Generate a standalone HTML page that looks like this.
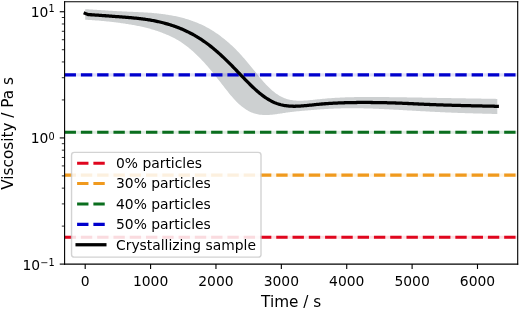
<!DOCTYPE html>
<html><head><meta charset="utf-8"><style>
html,body{margin:0;padding:0;background:#fff;width:520px;height:309px;overflow:hidden}
svg{display:block}
</style></head><body>
<svg width="520" height="309" viewBox="0 0 374.4 222.48" version="1.1">
 <defs>
  <style type="text/css">*{stroke-linejoin: round; stroke-linecap: butt}</style>
 </defs>
 <g id="figure_1">
  <g id="patch_1">
   <path d="M 0 222.48 
L 374.4 222.48 
L 374.4 0 
L 0 0 
z
" style="fill: #ffffff"/>
  </g>
  <g id="axes_1">
   <g id="patch_2">
    <path d="M 46.512 190.152 
L 372.744 190.152 
L 372.744 1.26 
L 46.512 1.26 
z
" style="fill: #ffffff"/>
   </g>
   <g id="FillBetweenPolyCollection_1">
    <g clip-path="url(#pe75832984a)">
     <path d="M 61.344 -208.299468 L 61.344 -215.896559 L 62.087639 -215.85263 L 62.831278 -215.808656 L 63.574917 -215.764593 L 64.318556 -215.720396 L 65.062195 -215.67602 L 65.805835 -215.631421 L 66.549474 -215.586554 L 67.293113 -215.541373 L 68.036752 -215.495836 L 68.780391 -215.449896 L 69.52403 -215.403509 L 70.267669 -215.356631 L 71.011308 -215.309216 L 71.754947 -215.261221 L 72.498586 -215.2126 L 73.242226 -215.163308 L 73.985865 -215.113322 L 74.729504 -215.062798 L 75.473143 -215.011993 L 76.216782 -214.961165 L 76.960421 -214.910569 L 77.70406 -214.860464 L 78.447699 -214.811106 L 79.191338 -214.762753 L 79.934977 -214.715613 L 80.678617 -214.669693 L 81.422256 -214.624948 L 82.165895 -214.581333 L 82.909534 -214.538803 L 83.653173 -214.497314 L 84.396812 -214.45682 L 85.140451 -214.417276 L 85.88409 -214.378637 L 86.627729 -214.340858 L 87.371368 -214.303895 L 88.115008 -214.267702 L 88.858647 -214.232234 L 89.602286 -214.197446 L 90.345925 -214.163293 L 91.089564 -214.129731 L 91.833203 -214.096714 L 92.576842 -214.064197 L 93.320481 -214.032136 L 94.06412 -214.00048 L 94.807759 -213.969114 L 95.551398 -213.937875 L 96.295038 -213.906598 L 97.038677 -213.875119 L 97.782316 -213.843275 L 98.525955 -213.8109 L 99.269594 -213.777831 L 100.013233 -213.743904 L 100.756872 -213.708954 L 101.500511 -213.672817 L 102.24415 -213.635329 L 102.987789 -213.596326 L 103.731429 -213.555643 L 104.475068 -213.513117 L 105.218707 -213.468583 L 105.962346 -213.421877 L 106.705985 -213.372834 L 107.449624 -213.321292 L 108.193263 -213.267084 L 108.936902 -213.210068 L 109.680541 -213.150134 L 110.42418 -213.087179 L 111.16782 -213.021099 L 111.911459 -212.951789 L 112.655098 -212.879145 L 113.398737 -212.803064 L 114.142376 -212.723441 L 114.886015 -212.640172 L 115.629654 -212.553153 L 116.373293 -212.46228 L 117.116932 -212.36745 L 117.860571 -212.268556 L 118.604211 -212.165497 L 119.34785 -212.058167 L 120.091489 -211.946463 L 120.835128 -211.830281 L 121.578767 -211.709516 L 122.322406 -211.584064 L 123.066045 -211.453817 L 123.809684 -211.318641 L 124.553323 -211.178393 L 125.296962 -211.032932 L 126.040602 -210.882115 L 126.784241 -210.725799 L 127.52788 -210.563843 L 128.271519 -210.396104 L 129.015158 -210.22244 L 129.758797 -210.042708 L 130.502436 -209.856767 L 131.246075 -209.664473 L 131.989714 -209.465685 L 132.733353 -209.260259 L 133.476992 -209.048055 L 134.220632 -208.82893 L 134.964271 -208.60274 L 135.70791 -208.369345 L 136.451549 -208.128601 L 137.195188 -207.880365 L 137.938827 -207.624448 L 138.682466 -207.360627 L 139.426105 -207.088672 L 140.169744 -206.808357 L 140.913383 -206.519454 L 141.657023 -206.221736 L 142.400662 -205.914975 L 143.144301 -205.598945 L 143.88794 -205.273417 L 144.631579 -204.938164 L 145.375218 -204.592959 L 146.118857 -204.237575 L 146.862496 -203.871783 L 147.606135 -203.495357 L 148.349774 -203.108078 L 149.093414 -202.709761 L 149.837053 -202.300228 L 150.580692 -201.879301 L 151.324331 -201.446813 L 152.06797 -201.002674 L 152.811609 -200.546839 L 153.555248 -200.079317 L 154.298887 -199.600144 L 155.042526 -199.109358 L 155.786165 -198.606995 L 156.529805 -198.093093 L 157.273444 -197.567686 L 158.017083 -197.030738 L 158.760722 -196.482145 L 159.504361 -195.921802 L 160.248 -195.349605 L 160.991639 -194.765447 L 161.735278 -194.169223 L 162.478917 -193.560787 L 163.222556 -192.939912 L 163.966195 -192.306359 L 164.709835 -191.659891 L 165.453474 -191.000269 L 166.197113 -190.327256 L 166.940752 -189.640613 L 167.684391 -188.940157 L 168.42803 -188.225782 L 169.171669 -187.497385 L 169.915308 -186.754869 L 170.658947 -185.998131 L 171.402586 -185.227073 L 172.146226 -184.441729 L 172.889865 -183.64248 L 173.633504 -182.829761 L 174.377143 -182.004005 L 175.120782 -181.165647 L 175.864421 -180.315203 L 176.60806 -179.453416 L 177.351699 -178.581072 L 178.095338 -177.698954 L 178.838977 -176.807847 L 179.582617 -175.908534 L 180.326256 -175.001867 L 181.069895 -174.089154 L 181.813534 -173.171893 L 182.557173 -172.251591 L 183.300812 -171.329905 L 184.044451 -170.408628 L 184.78809 -169.489615 L 185.531729 -168.5751 L 186.275368 -167.667472 L 187.019008 -166.769125 L 187.762647 -165.882348 L 188.506286 -165.009069 L 189.249925 -164.151139 L 189.993564 -163.310409 L 190.737203 -162.48871 L 191.480842 -161.687553 L 192.224481 -160.908197 L 192.96812 -160.151891 L 193.711759 -159.419712 L 194.455398 -158.712563 L 195.199038 -158.031345 L 195.942677 -157.376954 L 196.686316 -156.750288 L 197.429955 -156.152239 L 198.173594 -155.583436 L 198.917233 -155.044165 L 199.660872 -154.534686 L 200.404511 -154.055263 L 201.14815 -153.606088 L 201.891789 -153.186912 L 202.635429 -152.797309 L 203.379068 -152.436855 L 204.122707 -152.105125 L 204.866346 -151.801693 L 205.609985 -151.526113 L 206.353624 -151.277551 L 207.097263 -151.054831 L 207.840902 -150.856769 L 208.584541 -150.682178 L 209.32818 -150.529871 L 210.07182 -150.398664 L 210.815459 -150.287386 L 211.559098 -150.194891 L 212.302737 -150.120034 L 213.046376 -150.061668 L 213.790015 -150.01865 L 214.533654 -149.989834 L 215.277293 -149.974075 L 216.020932 -149.970228 L 216.764571 -149.977222 L 217.508211 -149.994251 L 218.25185 -150.020575 L 218.995489 -150.055451 L 219.739128 -150.098137 L 220.482767 -150.147892 L 221.226406 -150.203972 L 221.970045 -150.265637 L 222.713684 -150.332144 L 223.457323 -150.402751 L 224.200962 -150.476716 L 224.944602 -150.553297 L 225.688241 -150.631752 L 226.43188 -150.711339 L 227.175519 -150.791323 L 227.919158 -150.871131 L 228.662797 -150.950351 L 229.406436 -151.028578 L 230.150075 -151.105404 L 230.893714 -151.180443 L 231.637353 -151.253534 L 232.380992 -151.324662 L 233.124632 -151.393814 L 233.868271 -151.460979 L 234.61191 -151.526143 L 235.355549 -151.589295 L 236.099188 -151.650422 L 236.842827 -151.709511 L 237.586466 -151.76655 L 238.330105 -151.821528 L 239.073744 -151.87443 L 239.817383 -151.925246 L 240.561023 -151.973962 L 241.304662 -152.020566 L 242.048301 -152.065059 L 242.79194 -152.107479 L 243.535579 -152.147867 L 244.279218 -152.186266 L 245.022857 -152.222719 L 245.766496 -152.257268 L 246.510135 -152.289955 L 247.253774 -152.320824 L 247.997414 -152.349917 L 248.741053 -152.377276 L 249.484692 -152.402944 L 250.228331 -152.426963 L 250.97197 -152.449376 L 251.715609 -152.470226 L 252.459248 -152.489556 L 253.202887 -152.507419 L 253.946526 -152.52388 L 254.690165 -152.538999 L 255.433805 -152.55284 L 256.177444 -152.565466 L 256.921083 -152.576938 L 257.664722 -152.58732 L 258.408361 -152.596675 L 259.152 -152.605064 L 259.895639 -152.612544 L 260.639278 -152.619146 L 261.382917 -152.62489 L 262.126556 -152.629798 L 262.870195 -152.63389 L 263.613835 -152.637189 L 264.357474 -152.639715 L 265.101113 -152.641489 L 265.844752 -152.642533 L 266.588391 -152.642867 L 267.33203 -152.642514 L 268.075669 -152.641494 L 268.819308 -152.639828 L 269.562947 -152.637538 L 270.306586 -152.634644 L 271.050226 -152.631169 L 271.793865 -152.627133 L 272.537504 -152.622557 L 273.281143 -152.617462 L 274.024782 -152.611871 L 274.768421 -152.605804 L 275.51206 -152.599281 L 276.255699 -152.592326 L 276.999338 -152.584957 L 277.742977 -152.577198 L 278.486617 -152.569068 L 279.230256 -152.56059 L 279.973895 -152.551784 L 280.717534 -152.542672 L 281.461173 -152.533275 L 282.204812 -152.523613 L 282.948451 -152.513709 L 283.69209 -152.503583 L 284.435729 -152.493257 L 285.179368 -152.482751 L 285.923008 -152.472088 L 286.666647 -152.461288 L 287.410286 -152.450372 L 288.153925 -152.439361 L 288.897564 -152.428272 L 289.641203 -152.417108 L 290.384842 -152.405869 L 291.128481 -152.394559 L 291.87212 -152.383178 L 292.615759 -152.371729 L 293.359398 -152.360214 L 294.103038 -152.348633 L 294.846677 -152.336989 L 295.590316 -152.325284 L 296.333955 -152.313519 L 297.077594 -152.301697 L 297.821233 -152.289818 L 298.564872 -152.277885 L 299.308511 -152.265899 L 300.05215 -152.253862 L 300.795789 -152.241776 L 301.539429 -152.229643 L 302.283068 -152.217464 L 303.026707 -152.205241 L 303.770346 -152.192976 L 304.513985 -152.180671 L 305.257624 -152.168327 L 306.001263 -152.155947 L 306.744902 -152.143531 L 307.488541 -152.131082 L 308.23218 -152.118602 L 308.97582 -152.106092 L 309.719459 -152.093553 L 310.463098 -152.080989 L 311.206737 -152.0684 L 311.950376 -152.055788 L 312.694015 -152.043155 L 313.437654 -152.030503 L 314.181293 -152.017833 L 314.924932 -152.005148 L 315.668571 -151.992448 L 316.412211 -151.979737 L 317.15585 -151.967015 L 317.899489 -151.954284 L 318.643128 -151.941546 L 319.386767 -151.928803 L 320.130406 -151.916057 L 320.874045 -151.903309 L 321.617684 -151.890561 L 322.361323 -151.877815 L 323.104962 -151.865072 L 323.848602 -151.852335 L 324.592241 -151.839604 L 325.33588 -151.826881 L 326.079519 -151.814166 L 326.823158 -151.801457 L 327.566797 -151.788755 L 328.310436 -151.77606 L 329.054075 -151.763371 L 329.797714 -151.750688 L 330.541353 -151.738012 L 331.284992 -151.725342 L 332.028632 -151.712677 L 332.772271 -151.700019 L 333.51591 -151.687366 L 334.259549 -151.674718 L 335.003188 -151.662075 L 335.746827 -151.649438 L 336.490466 -151.636805 L 337.234105 -151.624177 L 337.977744 -151.611554 L 338.721383 -151.598935 L 339.465023 -151.58632 L 340.208662 -151.57371 L 340.952301 -151.561103 L 341.69594 -151.5485 L 342.439579 -151.535901 L 343.183218 -151.523305 L 343.926857 -151.510712 L 344.670496 -151.498122 L 345.414135 -151.485536 L 346.157774 -151.472952 L 346.901414 -151.46037 L 347.645053 -151.447791 L 348.388692 -151.435215 L 349.132331 -151.42264 L 349.87597 -151.410068 L 350.619609 -151.397497 L 351.363248 -151.384928 L 352.106887 -151.37236 L 352.850526 -151.359794 L 353.594165 -151.347229 L 354.337805 -151.334664 L 355.081444 -151.322101 L 355.825083 -151.309538 L 356.568722 -151.296976 L 357.312361 -151.284414 L 358.056 -151.271852 L 358.056 -140.389524 L 358.056 -140.389524 L 357.312361 -140.408211 L 356.568722 -140.426909 L 355.825083 -140.44563 L 355.081444 -140.464386 L 354.337805 -140.483188 L 353.594165 -140.502048 L 352.850526 -140.520977 L 352.106887 -140.539987 L 351.363248 -140.559089 L 350.619609 -140.578295 L 349.87597 -140.597617 L 349.132331 -140.617065 L 348.388692 -140.636652 L 347.645053 -140.656389 L 346.901414 -140.676288 L 346.157774 -140.696359 L 345.414135 -140.716616 L 344.670496 -140.737068 L 343.926857 -140.757728 L 343.183218 -140.778608 L 342.439579 -140.799718 L 341.69594 -140.821071 L 340.952301 -140.842678 L 340.208662 -140.86455 L 339.465023 -140.886699 L 338.721383 -140.909137 L 337.977744 -140.931875 L 337.234105 -140.954924 L 336.490466 -140.978297 L 335.746827 -141.002004 L 335.003188 -141.026058 L 334.259549 -141.050469 L 333.51591 -141.07525 L 332.772271 -141.100411 L 332.028632 -141.125965 L 331.284992 -141.151923 L 330.541353 -141.178297 L 329.797714 -141.205097 L 329.054075 -141.232336 L 328.310436 -141.260026 L 327.566797 -141.288176 L 326.823158 -141.3168 L 326.079519 -141.345909 L 325.33588 -141.375514 L 324.592241 -141.405627 L 323.848602 -141.43626 L 323.104962 -141.467416 L 322.361323 -141.499086 L 321.617684 -141.531256 L 320.874045 -141.563914 L 320.130406 -141.597047 L 319.386767 -141.630643 L 318.643128 -141.664689 L 317.899489 -141.699173 L 317.15585 -141.734081 L 316.412211 -141.7694 L 315.668571 -141.805119 L 314.924932 -141.841225 L 314.181293 -141.877704 L 313.437654 -141.914545 L 312.694015 -141.951734 L 311.950376 -141.989259 L 311.206737 -142.027107 L 310.463098 -142.065266 L 309.719459 -142.103723 L 308.97582 -142.142464 L 308.23218 -142.181478 L 307.488541 -142.220752 L 306.744902 -142.260273 L 306.001263 -142.300029 L 305.257624 -142.340006 L 304.513985 -142.380192 L 303.770346 -142.420575 L 303.026707 -142.461142 L 302.283068 -142.501879 L 301.539429 -142.542775 L 300.795789 -142.583817 L 300.05215 -142.624992 L 299.308511 -142.666287 L 298.564872 -142.70769 L 297.821233 -142.749188 L 297.077594 -142.790768 L 296.333955 -142.832418 L 295.590316 -142.874124 L 294.846677 -142.915876 L 294.103038 -142.957658 L 293.359398 -142.99946 L 292.615759 -143.041268 L 291.87212 -143.08307 L 291.128481 -143.124852 L 290.384842 -143.166603 L 289.641203 -143.208309 L 288.897564 -143.249959 L 288.153925 -143.291538 L 287.410286 -143.333033 L 286.666647 -143.374416 L 285.923008 -143.415651 L 285.179368 -143.456703 L 284.435729 -143.497538 L 283.69209 -143.538121 L 282.948451 -143.578417 L 282.204812 -143.618391 L 281.461173 -143.658009 L 280.717534 -143.697235 L 279.973895 -143.736034 L 279.230256 -143.774372 L 278.486617 -143.812214 L 277.742977 -143.849525 L 276.999338 -143.88627 L 276.255699 -143.922414 L 275.51206 -143.957923 L 274.768421 -143.992761 L 274.024782 -144.026894 L 273.281143 -144.060286 L 272.537504 -144.092904 L 271.793865 -144.124712 L 271.050226 -144.155674 L 270.306586 -144.185758 L 269.562947 -144.214927 L 268.819308 -144.243146 L 268.075669 -144.270381 L 267.33203 -144.296598 L 266.588391 -144.32176 L 265.844752 -144.345833 L 265.101113 -144.368783 L 264.357474 -144.390575 L 263.613835 -144.411173 L 262.870195 -144.430543 L 262.126556 -144.448649 L 261.382917 -144.465458 L 260.639278 -144.480934 L 259.895639 -144.495042 L 259.152 -144.507748 L 258.408361 -144.519017 L 257.664722 -144.528813 L 256.921083 -144.537102 L 256.177444 -144.543849 L 255.433805 -144.54902 L 254.690165 -144.552578 L 253.946526 -144.554491 L 253.202887 -144.554721 L 252.459248 -144.553236 L 251.715609 -144.55 L 250.97197 -144.544989 L 250.228331 -144.538194 L 249.484692 -144.529609 L 248.741053 -144.519224 L 247.997414 -144.507033 L 247.253774 -144.493027 L 246.510135 -144.477198 L 245.766496 -144.459539 L 245.022857 -144.440043 L 244.279218 -144.4187 L 243.535579 -144.395503 L 242.79194 -144.370445 L 242.048301 -144.343518 L 241.304662 -144.314714 L 240.561023 -144.28403 L 239.817383 -144.251501 L 239.073744 -144.217172 L 238.330105 -144.181091 L 237.586466 -144.143304 L 236.842827 -144.103859 L 236.099188 -144.062801 L 235.355549 -144.020177 L 234.61191 -143.976035 L 233.868271 -143.930421 L 233.124632 -143.883381 L 232.380992 -143.834962 L 231.637353 -143.785212 L 230.893714 -143.734176 L 230.150075 -143.681903 L 229.406436 -143.628473 L 228.662797 -143.574023 L 227.919158 -143.518692 L 227.175519 -143.462619 L 226.43188 -143.405941 L 225.688241 -143.348713 L 224.944602 -143.290909 L 224.200962 -143.2325 L 223.457323 -143.173454 L 222.713684 -143.113741 L 221.970045 -143.053333 L 221.226406 -142.992198 L 220.482767 -142.930307 L 219.739128 -142.86763 L 218.995489 -142.804121 L 218.25185 -142.739629 L 217.508211 -142.673958 L 216.764571 -142.60691 L 216.020932 -142.538288 L 215.277293 -142.467885 L 214.533654 -142.395462 L 213.790015 -142.320768 L 213.046376 -142.243552 L 212.302737 -142.163564 L 211.559098 -142.080552 L 210.815459 -141.994284 L 210.07182 -141.904711 L 209.32818 -141.811902 L 208.584541 -141.715925 L 207.840902 -141.616852 L 207.097263 -141.514751 L 206.353624 -141.409693 L 205.609985 -141.301747 L 204.866346 -141.190997 L 204.122707 -141.077888 L 203.379068 -140.963288 L 202.635429 -140.848084 L 201.891789 -140.733165 L 201.14815 -140.61942 L 200.404511 -140.507736 L 199.660872 -140.399002 L 198.917233 -140.294108 L 198.173594 -140.19394 L 197.429955 -140.099388 L 196.686316 -140.011368 L 195.942677 -139.930912 L 195.199038 -139.859083 L 194.455398 -139.796942 L 193.711759 -139.745551 L 192.96812 -139.705971 L 192.224481 -139.679265 L 191.480842 -139.666494 L 190.737203 -139.66872 L 189.993564 -139.68701 L 189.249925 -139.722482 L 188.506286 -139.776285 L 187.762647 -139.849569 L 187.019008 -139.943483 L 186.275368 -140.059176 L 185.531729 -140.197797 L 184.78809 -140.360496 L 184.044451 -140.54842 L 183.300812 -140.762555 L 182.557173 -141.003667 L 181.813534 -141.272504 L 181.069895 -141.569796 L 180.326256 -141.896125 L 179.582617 -142.252006 L 178.838977 -142.637952 L 178.095338 -143.054477 L 177.351699 -143.501995 L 176.60806 -143.980573 L 175.864421 -144.490201 L 175.120782 -145.030868 L 174.377143 -145.60256 L 173.633504 -146.205098 L 172.889865 -146.838084 L 172.146226 -147.501109 L 171.402586 -148.193759 L 170.658947 -148.915592 L 169.915308 -149.665774 L 169.171669 -150.44321 L 168.42803 -151.246798 L 167.684391 -152.075193 L 166.940752 -152.926451 L 166.197113 -153.798539 L 165.453474 -154.68938 L 164.709835 -155.596719 L 163.966195 -156.518248 L 163.222556 -157.451661 L 162.478917 -158.394651 L 161.735278 -159.344912 L 160.991639 -160.300141 L 160.248 -161.258319 L 159.504361 -162.21792 L 158.760722 -163.177471 L 158.017083 -164.135493 L 157.273444 -165.090513 L 156.529805 -166.041056 L 155.786165 -166.985808 L 155.042526 -167.923828 L 154.298887 -168.854229 L 153.555248 -169.77612 L 152.811609 -170.688613 L 152.06797 -171.590818 L 151.324331 -172.481948 L 150.580692 -173.361525 L 149.837053 -174.229132 L 149.093414 -175.08435 L 148.349774 -175.926765 L 147.606135 -176.75616 L 146.862496 -177.572617 L 146.118857 -178.376244 L 145.375218 -179.167146 L 144.631579 -179.94543 L 143.88794 -180.711202 L 143.144301 -181.464569 L 142.400662 -182.205603 L 141.657023 -182.9342 L 140.913383 -183.65012 L 140.169744 -184.352796 L 139.426105 -185.041567 L 138.682466 -185.715776 L 137.938827 -186.37476 L 137.195188 -187.017861 L 136.451549 -187.6445 L 135.70791 -188.254474 L 134.964271 -188.847686 L 134.220632 -189.424041 L 133.476992 -189.983444 L 132.733353 -190.525798 L 131.989714 -191.051009 L 131.246075 -191.558996 L 130.502436 -192.050057 L 129.758797 -192.524868 L 129.015158 -192.984121 L 128.271519 -193.428509 L 127.52788 -193.858725 L 126.784241 -194.275462 L 126.040602 -194.679413 L 125.296962 -195.071245 L 124.553323 -195.451512 L 123.809684 -195.820735 L 123.066045 -196.179431 L 122.322406 -196.528122 L 121.578767 -196.867326 L 120.835128 -197.197564 L 120.091489 -197.519355 L 119.34785 -197.833218 L 118.604211 -198.139672 L 117.860571 -198.439086 L 117.116932 -198.731546 L 116.373293 -199.017112 L 115.629654 -199.295839 L 114.886015 -199.567785 L 114.142376 -199.833007 L 113.398737 -200.091563 L 112.655098 -200.34351 L 111.911459 -200.588904 L 111.16782 -200.827804 L 110.42418 -201.060267 L 109.680541 -201.286349 L 108.936902 -201.506108 L 108.193263 -201.719601 L 107.449624 -201.926894 L 106.705985 -202.12813 L 105.962346 -202.323489 L 105.218707 -202.513156 L 104.475068 -202.697312 L 103.731429 -202.876141 L 102.987789 -203.049826 L 102.24415 -203.218548 L 101.500511 -203.382492 L 100.756872 -203.54184 L 100.013233 -203.696773 L 99.269594 -203.847477 L 98.525955 -203.994132 L 97.782316 -204.136922 L 97.038677 -204.276029 L 96.295038 -204.411637 L 95.551398 -204.543928 L 94.807759 -204.673084 L 94.06412 -204.79929 L 93.320481 -204.922725 L 92.576842 -205.043525 L 91.833203 -205.161757 L 91.089564 -205.277485 L 90.345925 -205.390771 L 89.602286 -205.501678 L 88.858647 -205.61027 L 88.115008 -205.716609 L 87.371368 -205.820759 L 86.627729 -205.922783 L 85.88409 -206.022743 L 85.140451 -206.120703 L 84.396812 -206.216726 L 83.653173 -206.310875 L 82.909534 -206.403214 L 82.165895 -206.493804 L 81.422256 -206.582709 L 80.678617 -206.669993 L 79.934977 -206.755718 L 79.191338 -206.839948 L 78.447699 -206.922707 L 77.70406 -207.003875 L 76.960421 -207.083295 L 76.216782 -207.160812 L 75.473143 -207.236269 L 74.729504 -207.30951 L 73.985865 -207.380379 L 73.242226 -207.448721 L 72.498586 -207.514485 L 71.754947 -207.577811 L 71.011308 -207.638863 L 70.267669 -207.697802 L 69.52403 -207.754792 L 68.780391 -207.809995 L 68.036752 -207.863573 L 67.293113 -207.915688 L 66.549474 -207.966504 L 65.805835 -208.016182 L 65.062195 -208.064886 L 64.318556 -208.112777 L 63.574917 -208.160018 L 62.831278 -208.206772 L 62.087639 -208.253201 L 61.344 -208.299468 z" transform="translate(0 222.48)" style="fill: #cdd0d1"/>
    </g>
   </g>
   <g id="matplotlib.axis_1">
    <g id="xtick_1">
     <g id="line2d_1">
      <g>
       <path d="M 0 0 L 0 3.5" transform="translate(61.3407 190.152)" style="stroke: #000000; stroke-width: 0.8"/>
      </g>
     </g>
     <g id="text_1" transform="translate(0.000 1.080)">
      <text style="font-size: 10px; font-family: 'DejaVu Sans', 'Liberation Sans', sans-serif; text-anchor: middle" x="61.340727" y="204.750438" transform="rotate(-0 61.340727 204.750438)">0</text>
     </g>
    </g>
    <g id="xtick_2">
     <g id="line2d_2">
      <g>
       <path d="M 0 0 L 0 3.5" transform="translate(108.416 190.152)" style="stroke: #000000; stroke-width: 0.8"/>
      </g>
     </g>
     <g id="text_2" transform="translate(0.000 1.080)">
      <text style="font-size: 10px; font-family: 'DejaVu Sans', 'Liberation Sans', sans-serif; text-anchor: middle" x="108.416052" y="204.750438" transform="rotate(-0 108.416052 204.750438)">1000</text>
     </g>
    </g>
    <g id="xtick_3">
     <g id="line2d_3">
      <g>
       <path d="M 0 0 L 0 3.5" transform="translate(155.491 190.152)" style="stroke: #000000; stroke-width: 0.8"/>
      </g>
     </g>
     <g id="text_3" transform="translate(0.000 1.080)">
      <text style="font-size: 10px; font-family: 'DejaVu Sans', 'Liberation Sans', sans-serif; text-anchor: middle" x="155.491377" y="204.750438" transform="rotate(-0 155.491377 204.750438)">2000</text>
     </g>
    </g>
    <g id="xtick_4">
     <g id="line2d_4">
      <g>
       <path d="M 0 0 L 0 3.5" transform="translate(202.567 190.152)" style="stroke: #000000; stroke-width: 0.8"/>
      </g>
     </g>
     <g id="text_4" transform="translate(0.000 1.080)">
      <text style="font-size: 10px; font-family: 'DejaVu Sans', 'Liberation Sans', sans-serif; text-anchor: middle" x="202.566701" y="204.750438" transform="rotate(-0 202.566701 204.750438)">3000</text>
     </g>
    </g>
    <g id="xtick_5">
     <g id="line2d_5">
      <g>
       <path d="M 0 0 L 0 3.5" transform="translate(249.642 190.152)" style="stroke: #000000; stroke-width: 0.8"/>
      </g>
     </g>
     <g id="text_5" transform="translate(0.000 1.080)">
      <text style="font-size: 10px; font-family: 'DejaVu Sans', 'Liberation Sans', sans-serif; text-anchor: middle" x="249.642026" y="204.750438" transform="rotate(-0 249.642026 204.750438)">4000</text>
     </g>
    </g>
    <g id="xtick_6">
     <g id="line2d_6">
      <g>
       <path d="M 0 0 L 0 3.5" transform="translate(296.717 190.152)" style="stroke: #000000; stroke-width: 0.8"/>
      </g>
     </g>
     <g id="text_6" transform="translate(0.000 1.080)">
      <text style="font-size: 10px; font-family: 'DejaVu Sans', 'Liberation Sans', sans-serif; text-anchor: middle" x="296.717351" y="204.750438" transform="rotate(-0 296.717351 204.750438)">5000</text>
     </g>
    </g>
    <g id="xtick_7">
     <g id="line2d_7">
      <g>
       <path d="M 0 0 L 0 3.5" transform="translate(343.793 190.152)" style="stroke: #000000; stroke-width: 0.8"/>
      </g>
     </g>
     <g id="text_7" transform="translate(0.000 1.080)">
      <text style="font-size: 10px; font-family: 'DejaVu Sans', 'Liberation Sans', sans-serif; text-anchor: middle" x="343.792675" y="204.750438" transform="rotate(-0 343.792675 204.750438)">6000</text>
     </g>
    </g>
    <g id="text_8" transform="translate(0.000 1.728)">
     <text style="font-size: 11px; font-family: 'DejaVu Sans', 'Liberation Sans', sans-serif; text-anchor: middle" x="209.628" y="219.188406" transform="rotate(-0 209.628 219.188406)">Time / s</text>
    </g>
   </g>
   <g id="matplotlib.axis_2">
    <g id="ytick_1">
     <g id="line2d_8">
      <g>
       <path d="M 0 0 L -3.5 0" transform="translate(46.512 190.152)" style="stroke: #000000; stroke-width: 0.8"/>
      </g>
     </g>
     <g id="text_9" transform="translate(0.216 0.648)">
      <!-- $\mathdefault{10^{-1}}$ -->
      <g transform="translate(16.012 193.951219)">
       <text>
        <tspan x="0" y="-0.064063" style="font-size: 10px; font-family: 'DejaVu Sans', 'Liberation Sans', sans-serif">1</tspan>
        <tspan x="6.362305" y="-0.064063" style="font-size: 10px; font-family: 'DejaVu Sans', 'Liberation Sans', sans-serif">0</tspan>
        <tspan x="12.820312" y="-3.316188" style="font-size: 7px; font-family: 'DejaVu Sans', 'Liberation Sans', sans-serif">−</tspan>
        <tspan x="18.685547" y="-3.316188" style="font-size: 7px; font-family: 'DejaVu Sans', 'Liberation Sans', sans-serif">1</tspan>
       </text>
      </g>
     </g>
    </g>
    <g id="ytick_2">
     <g id="line2d_9">
      <g>
       <path d="M 0 0 L -3.5 0" transform="translate(46.512 99.3028)" style="stroke: #000000; stroke-width: 0.8"/>
      </g>
     </g>
     <g id="text_10" transform="translate(0.216 0.648)">
      <!-- $\mathdefault{10^{0}}$ -->
      <g transform="translate(21.912 103.101996)">
       <text>
        <tspan x="0" y="-0.760562" style="font-size: 10px; font-family: 'DejaVu Sans', 'Liberation Sans', sans-serif">1</tspan>
        <tspan x="6.362305" y="-0.760562" style="font-size: 10px; font-family: 'DejaVu Sans', 'Liberation Sans', sans-serif">0</tspan>
        <tspan x="12.820312" y="-3.220688" style="font-size: 7px; font-family: 'DejaVu Sans', 'Liberation Sans', sans-serif">0</tspan>
       </text>
      </g>
     </g>
    </g>
    <g id="ytick_3">
     <g id="line2d_10">
      <g>
       <path d="M 0 0 L -3.5 0" transform="translate(46.512 8.45355)" style="stroke: #000000; stroke-width: 0.8"/>
      </g>
     </g>
     <g id="text_11" transform="translate(0.216 0.648)">
      <!-- $\mathdefault{10^{1}}$ -->
      <g transform="translate(21.912 12.252773)">
       <text>
        <tspan x="0" y="-0.784063" style="font-size: 10px; font-family: 'DejaVu Sans', 'Liberation Sans', sans-serif">1</tspan>
        <tspan x="6.362305" y="-0.784063" style="font-size: 10px; font-family: 'DejaVu Sans', 'Liberation Sans', sans-serif">0</tspan>
        <tspan x="12.820312" y="-4.252188" style="font-size: 7px; font-family: 'DejaVu Sans', 'Liberation Sans', sans-serif">1</tspan>
       </text>
      </g>
     </g>
    </g>
    <g id="ytick_4">
     <g id="line2d_11">
      <g>
       <path d="M 0 0 L -2 0" transform="translate(46.512 162.804)" style="stroke: #000000; stroke-width: 0.6"/>
      </g>
     </g>
    </g>
    <g id="ytick_5">
     <g id="line2d_12">
      <g>
       <path d="M 0 0 L -2 0" transform="translate(46.512 146.806)" style="stroke: #000000; stroke-width: 0.6"/>
      </g>
     </g>
    </g>
    <g id="ytick_6">
     <g id="line2d_13">
      <g>
       <path d="M 0 0 L -2 0" transform="translate(46.512 135.455)" style="stroke: #000000; stroke-width: 0.6"/>
      </g>
     </g>
    </g>
    <g id="ytick_7">
     <g id="line2d_14">
      <g>
       <path d="M 0 0 L -2 0" transform="translate(46.512 126.651)" style="stroke: #000000; stroke-width: 0.6"/>
      </g>
     </g>
    </g>
    <g id="ytick_8">
     <g id="line2d_15">
      <g>
       <path d="M 0 0 L -2 0" transform="translate(46.512 119.458)" style="stroke: #000000; stroke-width: 0.6"/>
      </g>
     </g>
    </g>
    <g id="ytick_9">
     <g id="line2d_16">
      <g>
       <path d="M 0 0 L -2 0" transform="translate(46.512 113.376)" style="stroke: #000000; stroke-width: 0.6"/>
      </g>
     </g>
    </g>
    <g id="ytick_10">
     <g id="line2d_17">
      <g>
       <path d="M 0 0 L -2 0" transform="translate(46.512 108.107)" style="stroke: #000000; stroke-width: 0.6"/>
      </g>
     </g>
    </g>
    <g id="ytick_11">
     <g id="line2d_18">
      <g>
       <path d="M 0 0 L -2 0" transform="translate(46.512 103.46)" style="stroke: #000000; stroke-width: 0.6"/>
      </g>
     </g>
    </g>
    <g id="ytick_12">
     <g id="line2d_19">
      <g>
       <path d="M 0 0 L -2 0" transform="translate(46.512 71.9544)" style="stroke: #000000; stroke-width: 0.6"/>
      </g>
     </g>
    </g>
    <g id="ytick_13">
     <g id="line2d_20">
      <g>
       <path d="M 0 0 L -2 0" transform="translate(46.512 55.9567)" style="stroke: #000000; stroke-width: 0.6"/>
      </g>
     </g>
    </g>
    <g id="ytick_14">
     <g id="line2d_21">
      <g>
       <path d="M 0 0 L -2 0" transform="translate(46.512 44.6061)" style="stroke: #000000; stroke-width: 0.6"/>
      </g>
     </g>
    </g>
    <g id="ytick_15">
     <g id="line2d_22">
      <g>
       <path d="M 0 0 L -2 0" transform="translate(46.512 35.8019)" style="stroke: #000000; stroke-width: 0.6"/>
      </g>
     </g>
    </g>
    <g id="ytick_16">
     <g id="line2d_23">
      <g>
       <path d="M 0 0 L -2 0" transform="translate(46.512 28.6083)" style="stroke: #000000; stroke-width: 0.6"/>
      </g>
     </g>
    </g>
    <g id="ytick_17">
     <g id="line2d_24">
      <g>
       <path d="M 0 0 L -2 0" transform="translate(46.512 22.5263)" style="stroke: #000000; stroke-width: 0.6"/>
      </g>
     </g>
    </g>
    <g id="ytick_18">
     <g id="line2d_25">
      <g>
       <path d="M 0 0 L -2 0" transform="translate(46.512 17.2578)" style="stroke: #000000; stroke-width: 0.6"/>
      </g>
     </g>
    </g>
    <g id="ytick_19">
     <g id="line2d_26">
      <g>
       <path d="M 0 0 L -2 0" transform="translate(46.512 12.6106)" style="stroke: #000000; stroke-width: 0.6"/>
      </g>
     </g>
    </g>
    <g id="text_12" transform="translate(-0.720 0.360)">
     <text style="font-size: 11px; font-family: 'DejaVu Sans', 'Liberation Sans', sans-serif; text-anchor: middle" x="9.724344" y="95.706" transform="rotate(-90 9.724344 95.706)">Viscosity / Pa s</text>
    </g>
   </g>
   <g id="line2d_27">
    <path d="M 46.512 170.82 
L 372.744 170.82 
" clip-path="url(#pe75832984a)" style="fill: none; stroke: #e0061e; stroke-opacity: 0.12; stroke-width: 2.2; stroke-linecap: square"/>
   </g>
   <g id="line2d_28">
    <path d="M 46.512 170.82 
L 372.744 170.82 
" clip-path="url(#pe75832984a)" style="fill: none; stroke-dasharray: 8.183,3.539; stroke-dashoffset: 0; stroke: #e0061e; stroke-width: 2.2"/>
   </g>
   <g id="line2d_29">
    <path d="M 46.512 126.072 
L 372.744 126.072 
" clip-path="url(#pe75832984a)" style="fill: none; stroke: #f09a1e; stroke-opacity: 0.12; stroke-width: 2.2; stroke-linecap: square"/>
   </g>
   <g id="line2d_30">
    <path d="M 46.512 126.072 
L 372.744 126.072 
" clip-path="url(#pe75832984a)" style="fill: none; stroke-dasharray: 8.183,3.539; stroke-dashoffset: 0; stroke: #f09a1e; stroke-width: 2.2"/>
   </g>
   <g id="line2d_31">
    <path d="M 46.512 95.256 
L 372.744 95.256 
" clip-path="url(#pe75832984a)" style="fill: none; stroke: #0a6e1e; stroke-opacity: 0.12; stroke-width: 2.2; stroke-linecap: square"/>
   </g>
   <g id="line2d_32">
    <path d="M 46.512 95.256 
L 372.744 95.256 
" clip-path="url(#pe75832984a)" style="fill: none; stroke-dasharray: 8.183,3.539; stroke-dashoffset: 0; stroke: #0a6e1e; stroke-width: 2.2"/>
   </g>
   <g id="line2d_33">
    <path d="M 46.512 53.928 
L 372.744 53.928 
" clip-path="url(#pe75832984a)" style="fill: none; stroke: #0000cd; stroke-opacity: 0.12; stroke-width: 2.2; stroke-linecap: square"/>
   </g>
   <g id="line2d_34">
    <path d="M 46.512 53.928 
L 372.744 53.928 
" clip-path="url(#pe75832984a)" style="fill: none; stroke-dasharray: 8.183,3.539; stroke-dashoffset: 0; stroke: #0000cd; stroke-width: 2.2"/>
   </g>
   <g id="patch_3">
    <path d="M 46.512 190.152 
L 46.512 1.26 
" style="fill: none; stroke: #000000; stroke-width: 0.8; stroke-linejoin: miter; stroke-linecap: square"/>
   </g>
   <g id="patch_4">
    <path d="M 372.744 190.152 
L 372.744 1.26 
" style="fill: none; stroke: #000000; stroke-width: 0.8; stroke-linejoin: miter; stroke-linecap: square"/>
   </g>
   <g id="patch_5">
    <path d="M 46.512 190.152 
L 372.744 190.152 
" style="fill: none; stroke: #000000; stroke-width: 0.8; stroke-linejoin: miter; stroke-linecap: square"/>
   </g>
   <g id="patch_6">
    <path d="M 46.512 1.26 
L 372.744 1.26 
" style="fill: none; stroke: #000000; stroke-width: 0.8; stroke-linejoin: miter; stroke-linecap: square"/>
   </g>
   <g id="line2d_35">
    <path d="M 61.344 9.648 
L 63.36 10.472356 
L 64.098586 10.521989 
L 64.837173 10.571587 
L 65.575759 10.621133 
L 66.314346 10.670673 
L 67.052932 10.720265 
L 67.791519 10.769969 
L 68.530105 10.819843 
L 69.268692 10.869947 
L 70.007278 10.920339 
L 70.745865 10.971078 
L 71.484451 11.022223 
L 72.223038 11.073832 
L 72.961624 11.125966 
L 73.700211 11.178681 
L 74.438797 11.231975 
L 75.177383 11.28576 
L 75.91597 11.339939 
L 76.654556 11.394414 
L 77.393143 11.449089 
L 78.131729 11.503869 
L 78.870316 11.558655 
L 79.608902 11.613357 
L 80.347489 11.667966 
L 81.086075 11.722549 
L 81.824662 11.777175 
L 82.563248 11.831911 
L 83.301835 11.886827 
L 84.040421 11.94199 
L 84.779008 11.997469 
L 85.517594 12.053333 
L 86.25618 12.109649 
L 86.994767 12.166488 
L 87.733353 12.223916 
L 88.47194 12.282003 
L 89.210526 12.340816 
L 89.949113 12.400425 
L 90.687699 12.460898 
L 91.426286 12.522303 
L 92.164872 12.584709 
L 92.903459 12.648185 
L 93.642045 12.712797 
L 94.380632 12.778639 
L 95.119218 12.845878 
L 95.857805 12.914696 
L 96.596391 12.98528 
L 97.334977 13.057811 
L 98.073564 13.132474 
L 98.81215 13.209454 
L 99.550737 13.288933 
L 100.289323 13.371096 
L 101.02791 13.456127 
L 101.766496 13.544209 
L 102.505083 13.635527 
L 103.243669 13.730263 
L 103.982256 13.828603 
L 104.720842 13.93073 
L 105.459429 14.036827 
L 106.198015 14.147079 
L 106.936602 14.26167 
L 107.675188 14.380783 
L 108.413774 14.5046 
L 109.152361 14.63324 
L 109.890947 14.766775 
L 110.629534 14.905272 
L 111.36812 15.048802 
L 112.106707 15.197433 
L 112.845293 15.351233 
L 113.58388 15.510271 
L 114.322466 15.674617 
L 115.061053 15.844338 
L 115.799639 16.019503 
L 116.538226 16.200182 
L 117.276812 16.386442 
L 118.015398 16.578354 
L 118.753985 16.775985 
L 119.492571 16.979404 
L 120.231158 17.18868 
L 120.969744 17.403882 
L 121.708331 17.625079 
L 122.446917 17.852338 
L 123.185504 18.085749 
L 123.92409 18.325465 
L 124.662677 18.571651 
L 125.401263 18.824475 
L 126.13985 19.084101 
L 126.878436 19.350696 
L 127.617023 19.624427 
L 128.355609 19.905459 
L 129.094195 20.19396 
L 129.832782 20.490094 
L 130.571368 20.794029 
L 131.309955 21.10593 
L 132.048541 21.425964 
L 132.787128 21.754296 
L 133.525714 22.091094 
L 134.264301 22.436523 
L 135.002887 22.79075 
L 135.741474 23.15394 
L 136.48006 23.526261 
L 137.218647 23.90787 
L 137.957233 24.298804 
L 138.69582 24.698998 
L 139.434406 25.108382 
L 140.172992 25.526886 
L 140.911579 25.954549 
L 141.650165 26.391599 
L 142.388752 26.838283 
L 143.127338 27.29485 
L 143.865925 27.761547 
L 144.604511 28.238603 
L 145.343098 28.72611 
L 146.081684 29.224099 
L 146.820271 29.732604 
L 147.558857 30.251658 
L 148.297444 30.781293 
L 149.03603 31.321543 
L 149.774617 31.87244 
L 150.513203 32.434016 
L 151.251789 33.006305 
L 151.990376 33.589278 
L 152.728962 34.182708 
L 153.467549 34.786328 
L 154.206135 35.399871 
L 154.944722 36.02307 
L 155.683308 36.655658 
L 156.421895 37.297367 
L 157.160481 37.947956 
L 157.899068 38.60725 
L 158.637654 39.275083 
L 159.376241 39.951277 
L 160.114827 40.635631 
L 160.853414 41.327941 
L 161.592 42.028005 
L 162.330586 42.735619 
L 163.069173 43.450581 
L 163.807759 44.172688 
L 164.546346 44.901736 
L 165.284932 45.637522 
L 166.023519 46.379829 
L 166.762105 47.128184 
L 167.500692 47.881906 
L 168.239278 48.640305 
L 168.977865 49.402695 
L 169.716451 50.168386 
L 170.455038 50.936692 
L 171.193624 51.706923 
L 171.932211 52.478392 
L 172.670797 53.250411 
L 173.409383 54.02229 
L 174.14797 54.79329 
L 174.886556 55.562528 
L 175.625143 56.3291 
L 176.363729 57.092102 
L 177.102316 57.85063 
L 177.840902 58.603779 
L 178.579489 59.350645 
L 179.318075 60.090325 
L 180.056662 60.821913 
L 180.795248 61.544506 
L 181.533835 62.257205 
L 182.272421 62.959118 
L 183.011008 63.649355 
L 183.749594 64.327027 
L 184.48818 64.991243 
L 185.226767 65.64117 
L 185.965353 66.276092 
L 186.70394 66.895308 
L 187.442526 67.498117 
L 188.181113 68.083816 
L 188.919699 68.651704 
L 189.658286 69.20108 
L 190.396872 69.731258 
L 191.135459 70.241771 
L 191.874045 70.732306 
L 192.612632 71.202559 
L 193.351218 71.65222 
L 194.089805 72.080983 
L 194.828391 72.488542 
L 195.566977 72.874587 
L 196.305564 73.238948 
L 197.04415 73.581831 
L 197.782737 73.903509 
L 198.521323 74.204256 
L 199.25991 74.484345 
L 199.998496 74.744048 
L 200.737083 74.98364 
L 201.475669 75.203399 
L 202.214256 75.403719 
L 202.952842 75.585106 
L 203.691429 75.748068 
L 204.430015 75.893117 
L 205.168602 76.020761 
L 205.907188 76.131557 
L 206.645774 76.226272 
L 207.384361 76.305734 
L 208.122947 76.37077 
L 208.861534 76.422201 
L 209.60012 76.460806 
L 210.338707 76.487349 
L 211.077293 76.502595 
L 211.81588 76.507307 
L 212.554466 76.50225 
L 213.293053 76.488152 
L 214.031639 76.465667 
L 214.770226 76.435438 
L 215.508812 76.398108 
L 216.247398 76.354319 
L 216.985985 76.304695 
L 217.724571 76.249828 
L 218.463158 76.190306 
L 219.201744 76.126721 
L 219.940331 76.059659 
L 220.678917 75.989642 
L 221.417504 75.917123 
L 222.15609 75.842551 
L 222.894677 75.766372 
L 223.633263 75.689036 
L 224.37185 75.61099 
L 225.110436 75.532683 
L 225.849023 75.454563 
L 226.587609 75.377077 
L 227.326195 75.300663 
L 228.064782 75.225635 
L 228.803368 75.152241 
L 229.541955 75.080727 
L 230.280541 75.011339 
L 231.019128 74.944296 
L 231.757714 74.879633 
L 232.496301 74.817311 
L 233.234887 74.75729 
L 233.973474 74.699533 
L 234.71206 74.643999 
L 235.450647 74.59065 
L 236.189233 74.539447 
L 236.92782 74.490351 
L 237.666406 74.443323 
L 238.404992 74.398323 
L 239.143579 74.355313 
L 239.882165 74.314254 
L 240.620752 74.275107 
L 241.359338 74.237832 
L 242.097925 74.202387 
L 242.836511 74.168718 
L 243.575098 74.136773 
L 244.313684 74.106496 
L 245.052271 74.077835 
L 245.790857 74.050735 
L 246.529444 74.025143 
L 247.26803 74.001004 
L 248.006617 73.978266 
L 248.745203 73.956874 
L 249.483789 73.936774 
L 250.222376 73.917913 
L 250.960962 73.900236 
L 251.699549 73.88369 
L 252.438135 73.868224 
L 253.176722 73.853825 
L 253.915308 73.84051 
L 254.653895 73.828297 
L 255.392481 73.817205 
L 256.131068 73.807252 
L 256.869654 73.798456 
L 257.608241 73.790835 
L 258.346827 73.784408 
L 259.085414 73.779192 
L 259.824 73.775201 
L 260.562586 73.772412 
L 261.301173 73.770788 
L 262.039759 73.770295 
L 262.778346 73.770894 
L 263.516932 73.77255 
L 264.255519 73.775227 
L 264.994105 73.778888 
L 265.732692 73.783497 
L 266.471278 73.789018 
L 267.209865 73.795415 
L 267.948451 73.80265 
L 268.687038 73.810689 
L 269.425624 73.819494 
L 270.164211 73.829029 
L 270.902797 73.839258 
L 271.641383 73.850145 
L 272.37997 73.861654 
L 273.118556 73.873747 
L 273.857143 73.88639 
L 274.595729 73.899571 
L 275.334316 73.91332 
L 276.072902 73.927665 
L 276.811489 73.942639 
L 277.550075 73.958271 
L 278.288662 73.974593 
L 279.027248 73.991635 
L 279.765835 74.009427 
L 280.504421 74.028002 
L 281.243008 74.047388 
L 281.981594 74.067618 
L 282.72018 74.088721 
L 283.458767 74.110728 
L 284.197353 74.133671 
L 284.93594 74.15758 
L 285.674526 74.182485 
L 286.413113 74.208417 
L 287.151699 74.235407 
L 287.890286 74.263486 
L 288.628872 74.292673 
L 289.367459 74.32291 
L 290.106045 74.354113 
L 290.844632 74.386196 
L 291.583218 74.419073 
L 292.321805 74.452659 
L 293.060391 74.486868 
L 293.798977 74.521614 
L 294.537564 74.556812 
L 295.27615 74.592376 
L 296.014737 74.628221 
L 296.753323 74.664261 
L 297.49191 74.700411 
L 298.230496 74.736584 
L 298.969083 74.772696 
L 299.707669 74.80866 
L 300.446256 74.844391 
L 301.184842 74.879804 
L 301.923429 74.914813 
L 302.662015 74.949332 
L 303.400602 74.983314 
L 304.139188 75.016761 
L 304.877774 75.049683 
L 305.616361 75.082088 
L 306.354947 75.113982 
L 307.093534 75.145376 
L 307.83212 75.176276 
L 308.570707 75.206691 
L 309.309293 75.236629 
L 310.04788 75.266099 
L 310.786466 75.295108 
L 311.525053 75.323664 
L 312.263639 75.351777 
L 313.002226 75.379453 
L 313.740812 75.406701 
L 314.479398 75.433529 
L 315.217985 75.459946 
L 315.956571 75.485959 
L 316.695158 75.511577 
L 317.433744 75.536807 
L 318.172331 75.561659 
L 318.910917 75.58614 
L 319.649504 75.610257 
L 320.38809 75.634021 
L 321.126677 75.657437 
L 321.865263 75.680516 
L 322.60385 75.703264 
L 323.342436 75.725691 
L 324.081023 75.747803 
L 324.819609 75.76961 
L 325.558195 75.791117 
L 326.296782 75.812332 
L 327.035368 75.833261 
L 327.773955 75.85391 
L 328.512541 75.874287 
L 329.251128 75.894398 
L 329.989714 75.91425 
L 330.728301 75.933849 
L 331.466887 75.953202 
L 332.205474 75.972316 
L 332.94406 75.991197 
L 333.682647 76.009852 
L 334.421233 76.028287 
L 335.15982 76.04651 
L 335.898406 76.064527 
L 336.636992 76.082344 
L 337.375579 76.099968 
L 338.114165 76.117406 
L 338.852752 76.134665 
L 339.591338 76.151751 
L 340.329925 76.16867 
L 341.068511 76.18543 
L 341.807098 76.202037 
L 342.545684 76.218498 
L 343.284271 76.234819 
L 344.022857 76.251007 
L 344.761444 76.267069 
L 345.50003 76.283011 
L 346.238617 76.298841 
L 346.977203 76.314563 
L 347.715789 76.330186 
L 348.454376 76.345716 
L 349.192962 76.36116 
L 349.931549 76.376523 
L 350.670135 76.391814 
L 351.408722 76.407038 
L 352.147308 76.422202 
L 352.885895 76.437313 
L 353.624481 76.452378 
L 354.363068 76.467402 
L 355.101654 76.482394 
L 355.840241 76.497358 
L 356.578827 76.512303 
L 357.317414 76.527235 
L 358.056 76.54216 
" clip-path="url(#pe75832984a)" style="fill: none; stroke: #000000; stroke-width: 2.35; stroke-linecap: square"/>
   </g>
   <g id="legend_1" transform="translate(0.000 0.648)">
    <g id="patch_7">
     <path d="M 53.5120 184.5040 L 185.9331 184.5040 Q 187.9331 184.5040 187.9331 182.5040 L 187.9331 111.0494 Q 187.9331 109.0494 185.9331 109.0494 L 53.5120 109.0494 Q 51.5120 109.0494 51.5120 111.0494 L 51.5120 182.5040 Q 51.5120 184.5040 53.5120 184.5040 z" style="fill: #ffffff; opacity: 0.86; stroke: #cccccc; stroke-linejoin: miter"/>
    </g>
    <g id="line2d_36">
     <path d="M 55.512 116.859813 
L 65.512 116.859813 
L 75.512 116.859813 
" style="fill: none; stroke-dasharray: 8.183,3.539; stroke-dashoffset: 0; stroke: #e0061e; stroke-width: 2.2"/>
    </g>
    <g id="text_13">
     <text style="font-size: 10px; font-family: 'DejaVu Sans', 'Liberation Sans', sans-serif; text-anchor: start" x="83.512" y="120.359813" transform="rotate(-0 83.512 120.359813)">0% particles</text>
    </g>
    <g id="line2d_37">
     <path d="M 55.512 131.537938 
L 65.512 131.537938 
L 75.512 131.537938 
" style="fill: none; stroke-dasharray: 8.183,3.539; stroke-dashoffset: 0; stroke: #f09a1e; stroke-width: 2.2"/>
    </g>
    <g id="text_14">
     <text style="font-size: 10px; font-family: 'DejaVu Sans', 'Liberation Sans', sans-serif; text-anchor: start" x="83.512" y="135.037938" transform="rotate(-0 83.512 135.037938)">30% particles</text>
    </g>
    <g id="line2d_38">
     <path d="M 55.512 146.216063 
L 65.512 146.216063 
L 75.512 146.216063 
" style="fill: none; stroke-dasharray: 8.183,3.539; stroke-dashoffset: 0; stroke: #0a6e1e; stroke-width: 2.2"/>
    </g>
    <g id="text_15">
     <text style="font-size: 10px; font-family: 'DejaVu Sans', 'Liberation Sans', sans-serif; text-anchor: start" x="83.512" y="149.716063" transform="rotate(-0 83.512 149.716063)">40% particles</text>
    </g>
    <g id="line2d_39">
     <path d="M 55.512 160.894188 
L 65.512 160.894188 
L 75.512 160.894188 
" style="fill: none; stroke-dasharray: 8.183,3.539; stroke-dashoffset: 0; stroke: #0000cd; stroke-width: 2.2"/>
    </g>
    <g id="text_16">
     <text style="font-size: 10px; font-family: 'DejaVu Sans', 'Liberation Sans', sans-serif; text-anchor: start" x="83.512" y="164.394188" transform="rotate(-0 83.512 164.394188)">50% particles</text>
    </g>
    <g id="line2d_40">
     <path d="M 55.512 175.572313 
L 65.512 175.572313 
L 75.512 175.572313 
" style="fill: none; stroke: #000000; stroke-width: 2.35; stroke-linecap: square"/>
    </g>
    <g id="text_17">
     <text style="font-size: 10px; font-family: 'DejaVu Sans', 'Liberation Sans', sans-serif; text-anchor: start" x="83.512" y="179.072313" transform="rotate(-0 83.512 179.072313)">Crystallizing sample</text>
    </g>
   </g>
  </g>
 </g>
 <defs>
  <clipPath id="pe75832984a">
   <rect x="46.512" y="1.26" width="326.232" height="188.892"/>
  </clipPath>
 </defs>
</svg>
</body></html>
